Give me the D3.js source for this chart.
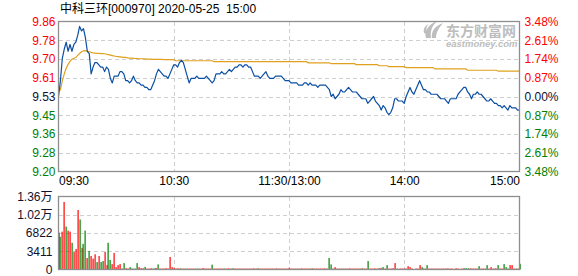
<!DOCTYPE html>
<html>
<head>
<meta charset="utf-8">
<script src="https://cdn.jsdelivr.net/npm/d3@7"></script>
<style>
body { margin: 0; background: #fff; }
svg text { font-family: "Liberation Sans", Arial, "Noto Sans CJK SC", sans-serif; font-size: 12px; }
</style>
</head>
<body>
<div id="viz"></div>
<script>
var title = "中科三环[000970] 2020-05-25  15:00";
var prevClose = 9.53;
var pctTicks = [3.48, 2.61, 1.74, 0.87, 0, -0.87, -1.74, -2.61, -3.48];
var priceLabels = ["9.86", "9.78", "9.70", "9.61", "9.53", "9.45", "9.36", "9.28", "9.20"];
var pctLabels = ["3.48%", "2.61%", "1.74%", "0.87%", "0.00%", "0.87%", "1.74%", "2.61%", "3.48%"];
var timeTicks = [0, 60, 120, 180, 240];
var timeLabels = ["09:30", "10:30", "11:30/13:00", "14:00", "15:00"];
var volTicks = [0, 3411, 6822, 10233, 13644];
var volLabels = ["0", "3411", "6822", "1.02万", "1.36万"];

// one value per minute, 09:30 .. 15:00 (241 minutes)
var price = [
  9.53,9.60,9.70,9.74,9.77,9.73,9.76,9.73,9.76,9.77,9.80,9.84,9.82,9.83,9.79,9.73,9.72,9.63,9.66,9.68,
  9.68,9.67,9.66,9.66,9.64,9.66,9.65,9.61,9.59,9.62,9.62,9.62,9.64,9.64,9.63,9.60,9.60,9.59,9.60,9.62,
  9.60,9.59,9.59,9.58,9.58,9.57,9.57,9.56,9.56,9.58,9.60,9.63,9.65,9.64,9.63,9.62,9.62,9.61,9.63,9.65,
  9.67,9.67,9.66,9.68,9.69,9.68,9.65,9.62,9.59,9.61,9.61,9.61,9.62,9.61,9.61,9.61,9.61,9.62,9.61,9.60,
  9.59,9.60,9.63,9.63,9.63,9.64,9.63,9.63,9.64,9.65,9.64,9.65,9.66,9.66,9.67,9.67,9.66,9.67,9.67,9.66,
  9.66,9.64,9.62,9.62,9.62,9.61,9.62,9.63,9.64,9.62,9.61,9.61,9.61,9.62,9.62,9.62,9.62,9.61,9.60,9.60,
  9.60,9.59,9.59,9.59,9.59,9.58,9.58,9.58,9.59,9.59,9.58,9.59,9.58,9.58,9.58,9.57,9.58,9.58,9.58,9.58,
  9.57,9.56,9.53,9.54,9.52,9.53,9.54,9.56,9.55,9.55,9.56,9.57,9.56,9.55,9.55,9.55,9.54,9.53,9.52,9.52,
  9.52,9.50,9.51,9.52,9.53,9.51,9.50,9.49,9.47,9.49,9.48,9.46,9.45,9.46,9.48,9.52,9.52,9.51,9.51,9.51,
  9.50,9.53,9.55,9.57,9.55,9.54,9.56,9.58,9.60,9.58,9.56,9.56,9.55,9.55,9.54,9.54,9.54,9.54,9.53,9.52,
  9.52,9.52,9.51,9.50,9.52,9.52,9.52,9.52,9.54,9.55,9.56,9.57,9.57,9.55,9.54,9.52,9.54,9.54,9.55,9.54,
  9.54,9.53,9.52,9.51,9.51,9.52,9.51,9.50,9.50,9.49,9.49,9.48,9.49,9.48,9.47,9.49,9.48,9.48,9.48,9.47,
  9.47
];

var avgPrice = [
  9.55,9.56,9.60,9.63,9.655,9.672,9.685,9.695,9.699,9.702,9.712,9.720,9.728,9.732,9.733,9.731,9.728,9.725,9.723,9.722,
  9.721,9.721,9.720,9.720,9.719,9.717,9.715,9.713,9.711,9.709,9.707,9.706,9.705,9.704,9.703,9.703,9.701,9.700,9.700,9.699,
  9.698,9.698,9.697,9.697,9.696,9.696,9.695,9.695,9.695,9.694,9.694,9.694,9.694,9.694,9.694,9.693,9.693,9.693,9.693,9.693,
  9.693,9.688,9.688,9.688,9.688,9.688,9.688,9.688,9.688,9.688,9.688,9.688,9.688,9.688,9.688,9.688,9.688,9.688,9.688,9.688,
  9.688,9.684,9.684,9.684,9.684,9.684,9.684,9.684,9.684,9.684,9.684,9.684,9.684,9.684,9.684,9.684,9.684,9.684,9.684,9.684,
  9.684,9.684,9.684,9.684,9.684,9.684,9.684,9.684,9.684,9.684,9.684,9.684,9.684,9.684,9.684,9.684,9.684,9.684,9.684,9.684,
  9.684,9.684,9.684,9.684,9.684,9.684,9.684,9.684,9.684,9.684,9.679,9.679,9.679,9.679,9.679,9.679,9.679,9.679,9.679,9.679,
  9.679,9.679,9.675,9.675,9.675,9.675,9.675,9.675,9.675,9.675,9.675,9.675,9.675,9.675,9.675,9.671,9.671,9.671,9.671,9.671,
  9.671,9.671,9.671,9.671,9.671,9.671,9.671,9.666,9.666,9.666,9.666,9.666,9.662,9.662,9.662,9.662,9.662,9.662,9.662,9.662,
  9.662,9.658,9.658,9.658,9.658,9.658,9.658,9.658,9.658,9.658,9.658,9.658,9.658,9.658,9.658,9.658,9.652,9.652,9.652,9.652,
  9.652,9.652,9.652,9.652,9.652,9.652,9.652,9.652,9.652,9.652,9.652,9.652,9.652,9.646,9.646,9.646,9.646,9.646,9.646,9.646,
  9.646,9.646,9.646,9.646,9.646,9.646,9.646,9.646,9.646,9.642,9.642,9.642,9.642,9.642,9.642,9.642,9.642,9.642,9.642,9.642,
  9.642
];

var volume = [
  6890,6130,7080,12630,8020,7270,7080,4990,3290,3850,11120,9350,4040,4800,7270,2150,3470,2530,2020,2840,
  1390,2530,1390,1580,3290,820,4990,1770,1010,3100,440,820,1010,190,1200,250,190,440,190,190,
  190,1200,440,250,250,500,190,190,250,190,250,250,950,190,190,190,250,190,2340,440,
  310,190,250,190,190,190,190,190,190,190,190,190,190,190,190,250,190,190,190,190,
  900,190,190,190,190,190,190,190,190,190,190,250,190,190,190,190,190,190,190,190,
  190,190,190,190,250,190,190,190,190,190,190,190,190,190,190,190,190,190,190,190,
  310,190,190,190,190,190,190,190,190,190,190,190,250,190,190,190,190,190,190,190,
  190,2150,950,190,440,190,190,190,190,190,190,190,190,190,190,190,190,190,250,190,
  190,1580,190,190,190,190,190,250,310,440,190,820,190,190,250,1200,190,120,190,190,
  190,190,630,440,190,60,190,190,820,440,190,190,820,190,190,190,190,190,190,190,
  190,190,190,190,190,190,120,250,190,120,190,250,250,250,190,190,190,190,190,630,
  190,190,190,820,190,440,190,190,190,820,190,190,1010,440,190,820,820,190,190,190,
  1070
];

// r = up tick, g = down tick
var volDir =
  "rgrrgrrgrrrgrggrgrrr" + "grggrrggrrrrrggrrggg" + "ggrrrgrrrggrgrrrrrrr" +
  "rrrggrrgrrrrggrrrrrr" + "grrrrrgrrrrgrrrrrrrr" + "rrrrgrrrrrrrrrgrrrrr" +
  "rrrrrgrrrrrrgrrrrrrr" + "rgggrrrrgrrrrrrrrrgr" + "rgrrrrrgrgrgrrrrgrrr" +
  "rrrrrgrrrggrgrrrrrrr" + "rrrrrrgrrrrgggrrrrrg" + "rrrgrrrrrgrrgggrrrgr" + "g";

var W = 578, H = 276;
var left = 58.5, right = 519.5;
var priceTop = 21.5, priceBottom = 171.5;
var volTop = 196.5, volBottom = 269.5;

var RED = "#ff0000", GREEN = "#008000", DARK = "#101030";

var svg = d3.select("#viz")
    .append("svg")
    .attr("width", W)
    .attr("height", H);

var x = d3.scaleLinear().domain([0, 240]).range([left, right]);
var yPct = d3.scaleLinear().domain([-3.48, 3.48]).range([priceBottom, priceTop]);
var yPrice = d3.scaleLinear()
    .domain([prevClose * (1 - 0.0348), prevClose * (1 + 0.0348)])
    .range([priceBottom, priceTop]);
var yVol = d3.scaleLinear().domain([0, 13644]).range([volBottom, volTop]);

function tickColor(i) {
    return i < 4 ? RED : (i === 4 ? DARK : GREEN);
}

// watermark
var wm = svg.append("g").attr("fill", "#bdbdbd");
wm.append("path")
    .attr("d", "M426,38 C424,31 428,25 437,21 C432,26 430,31 431,38 Z");
wm.append("path")
    .attr("d", "M432,38 C431,31 435,26 443,23 C439,28 436,32 436,38 Z");
wm.append("path")
    .attr("d", "M424,33 C423,29 425,26 428,24 C426,28 426,30 427,34 Z");
wm.append("text")
    .attr("x", 446).attr("y", 35.5)
    .style("font-family", "'Noto Sans CJK SC', sans-serif")
    .style("font-size", "14px").style("font-weight", "bold")
    .text("东方财富网");
wm.append("text")
    .attr("x", 446).attr("y", 47)
    .style("font-size", "9.5px").style("font-weight", "bold").style("font-style", "italic")
    .text("eastmoney.com");

// title
svg.append("text")
    .attr("x", 60).attr("y", 13)
    .attr("fill", "#000")
    .style("white-space", "pre")
    .text(title);

// grid
var grid = svg.append("g")
    .attr("stroke", "#cfcfcf")
    .attr("stroke-dasharray", "4,3")
    .attr("shape-rendering", "crispEdges");
grid.selectAll(".hp")
    .data(pctTicks.slice(1, -1))
    .enter().append("line")
    .attr("x1", left).attr("x2", right)
    .attr("y1", function (d) { return Math.round(yPct(d)) + 0.5; })
    .attr("y2", function (d) { return Math.round(yPct(d)) + 0.5; });
grid.selectAll(".hv")
    .data(volTicks.slice(1, -1))
    .enter().append("line")
    .attr("x1", left).attr("x2", right)
    .attr("y1", function (d) { return Math.round(yVol(d)) + 0.5; })
    .attr("y2", function (d) { return Math.round(yVol(d)) + 0.5; });
timeTicks.slice(1, -1).forEach(function (t) {
    grid.append("line")
        .attr("x1", Math.round(x(t)) + 0.5).attr("x2", Math.round(x(t)) + 0.5)
        .attr("y1", priceTop).attr("y2", priceBottom);
    grid.append("line")
        .attr("x1", Math.round(x(t)) + 0.5).attr("x2", Math.round(x(t)) + 0.5)
        .attr("y1", volTop).attr("y2", volBottom);
});

// volume bars
svg.append("g")
    .selectAll("rect")
    .data(volume)
    .enter().append("rect")
    .attr("x", function (d, i) { return Math.round(x(i)) - 0.5; })
    .attr("width", 1.2)
    .attr("y", function (d) { return yVol(d); })
    .attr("height", function (d) { return volBottom - yVol(d); })
    .attr("fill", function (d, i) { return volDir[i] === "g" ? GREEN : RED; });

// average line
svg.append("path")
    .datum(avgPrice)
    .attr("fill", "none")
    .attr("stroke", "#dfa11e")
    .attr("stroke-width", 1.2)
    .attr("d", d3.line()
        .x(function (d, i) { return x(i); })
        .y(function (d) { return yPrice(d); }));

// price line
svg.append("path")
    .datum(price)
    .attr("fill", "none")
    .attr("stroke", "#0b4fa3")
    .attr("stroke-width", 1.2)
    .attr("stroke-linejoin", "round")
    .attr("d", d3.line()
        .x(function (d, i) { return x(i); })
        .y(function (d) { return yPrice(d); }));

// frames
[[priceTop, priceBottom], [volTop, volBottom]].forEach(function (b) {
    svg.append("rect")
        .attr("x", left).attr("y", b[0])
        .attr("width", right - left).attr("height", b[1] - b[0])
        .attr("fill", "none")
        .attr("stroke", "#8e8e8e")
        .attr("stroke-width", 1.3);
});

// price axis (left)
var ax = svg.append("g")
    .attr("transform", "translate(" + left + ",0)")
    .call(d3.axisLeft(yPct).tickValues(pctTicks)
        .tickFormat(function (d, i) { return priceLabels[i]; })
        .tickSize(0).tickPadding(3));
ax.select(".domain").remove();
ax.selectAll("text").attr("fill", function (d, i) { return tickColor(i); })
    .style("font-size", "12px");

// percent axis (right)
var ar = svg.append("g")
    .attr("transform", "translate(" + right + ",0)")
    .call(d3.axisRight(yPct).tickValues(pctTicks)
        .tickFormat(function (d, i) { return pctLabels[i]; })
        .tickSize(0).tickPadding(5));
ar.select(".domain").remove();
ar.selectAll("text").attr("fill", function (d, i) { return tickColor(i); })
    .style("font-size", "12px");

// time axis
var at = svg.append("g")
    .attr("transform", "translate(0," + priceBottom + ")")
    .call(d3.axisBottom(x).tickValues(timeTicks)
        .tickFormat(function (d, i) { return timeLabels[i]; })
        .tickSize(0).tickPadding(5));
at.select(".domain").remove();
at.selectAll("text")
    .attr("fill", "#000")
    .style("font-size", "12px")
    .attr("text-anchor", function (d, i) {
        return i === 0 ? "start" : (i === timeTicks.length - 1 ? "end" : "middle");
    });

// volume axis
var av = svg.append("g")
    .attr("transform", "translate(" + left + ",0)")
    .call(d3.axisLeft(yVol).tickValues(volTicks)
        .tickFormat(function (d, i) { return volLabels[i]; })
        .tickSize(0).tickPadding(6));
av.select(".domain").remove();
av.selectAll("text").attr("fill", DARK).style("font-size", "12px");
</script>
</body>
</html>
